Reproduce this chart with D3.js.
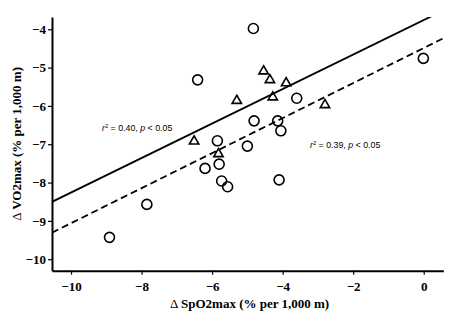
<!DOCTYPE html>
<html>
<head>
<meta charset="utf-8">
<script src="https://cdn.jsdelivr.net/npm/d3@7"></script>
<style>
  html, body { margin: 0; padding: 0; background: #fff; }
  svg { display: block; }
</style>
</head>
<body>
<svg id="chart" width="474" height="322"></svg>
<script>
// ---- data ----
const circleX = [-4.83, -6.41, -3.60, -4.81, -4.14, -4.05, -5.85, -5.00, -5.80, -6.20, -5.73, -5.56, -4.10, -7.85, -8.91, -0.01];
const circleY = [-3.98, -5.32, -5.80, -6.39, -6.39, -6.65, -6.91, -7.05, -7.52, -7.63, -7.96, -8.11, -7.93, -8.57, -9.43, -4.76];
const triX = [-4.54, -4.36, -3.90, -5.30, -4.28, -2.80, -6.51, -5.82];
const triY = [-5.08, -5.31, -5.39, -5.85, -5.76, -5.96, -6.91, -7.24];
// regression lines: [slope, intercept]
const lineSolid = [0.450, -3.76];
const lineDashed = [0.457, -4.49];
const xTicks = [-10, -8, -6, -4, -2, 0];
const yTicks = [-10, -9, -8, -7, -6, -5, -4];
const xDomain = [-10.54, 0.556];
const yDomain = [-10.30, -3.68];
const xTitle = "SpO2max (% per 1,000 m)";
const yTitle = "VO2max (% per 1,000 m)";

// ---- layout ----
const svg = d3.select("#chart");
const L = 52, R = 443.3, T = 17, B = 270.7;
const x = d3.scaleLinear().domain(xDomain).range([L, R]);
const y = d3.scaleLinear().domain(yDomain).range([B, T]);

svg.append("defs").append("clipPath").attr("id", "clip")
  .append("rect").attr("x", L).attr("y", T).attr("width", R - L).attr("height", B - T);

// axes
const xAxis = d3.axisBottom(x).tickValues(xTicks).tickSize(4).tickSizeOuter(0).tickFormat(d3.format("d"));
const yAxis = d3.axisLeft(y).tickValues(yTicks).tickSize(4).tickSizeOuter(0).tickFormat(d3.format("d"));

const gx = svg.append("g").attr("transform", `translate(0,${B})`).call(xAxis);
const gy = svg.append("g").attr("transform", `translate(${L},0)`).call(yAxis);
[gx, gy].forEach(g => {
  g.select(".domain").attr("stroke", "#000").attr("stroke-width", 2);
  g.selectAll(".tick line").attr("stroke", "#000").attr("stroke-width", 1.2);
  g.selectAll(".tick text")
    .attr("fill", "#000")
    .style("font-family", "'Liberation Serif', 'Times New Roman', serif")
    .style("font-weight", "bold")
    .style("font-size", "13px");
});
gx.selectAll(".tick text").attr("dy", "1.05em");
gy.selectAll(".tick text").attr("x", -6);

// regression lines
const plot = svg.append("g").attr("clip-path", "url(#clip)");
function drawLine(coef, dash) {
  plot.append("line")
    .attr("x1", x(xDomain[0])).attr("y1", y(coef[0] * xDomain[0] + coef[1]))
    .attr("x2", x(xDomain[1])).attr("y2", y(coef[0] * xDomain[1] + coef[1]))
    .attr("stroke", "#000").attr("stroke-width", 1.8)
    .attr("stroke-dasharray", dash || null);
}
drawLine(lineSolid);
drawLine(lineDashed, "7,4");

// points
const circles = circleX.map((v, i) => [v, circleY[i]]);
const tris = triX.map((v, i) => [v, triY[i]]);
svg.append("g").selectAll("circle").data(circles).join("circle")
  .attr("cx", d => x(d[0])).attr("cy", d => y(d[1])).attr("r", 5)
  .attr("fill", "none").attr("stroke", "#000").attr("stroke-width", 1.6);
const triSym = d3.symbol().type(d3.symbolTriangle).size(38);
svg.append("g").selectAll("path").data(tris).join("path")
  .attr("d", triSym)
  .attr("transform", d => `translate(${x(d[0])},${y(d[1]) + 0.5})`)
  .attr("fill", "none").attr("stroke", "#000").attr("stroke-width", 1.6);

// annotations
function annot(px, py, r2) {
  const t = svg.append("text").attr("x", px).attr("y", py)
    .style("font-family", "'Liberation Sans', Arial, sans-serif")
    .style("font-size", "8.8px").attr("fill", "#000");
  t.append("tspan").style("font-style", "italic").text("r");
  t.append("tspan").attr("dy", -3.5).style("font-size", "5.8px").text("2");
  t.append("tspan").attr("dy", 3.5).text(` = ${r2}, `);
  t.append("tspan").style("font-style", "italic").text("p");
  t.append("tspan").text(" < 0.05");
}
annot(102, 131, "0.40");
annot(310, 148, "0.39");

// axis titles
const titleFont = "'Liberation Serif', 'Times New Roman', serif";
const xt = svg.append("text").attr("x", (L + R) / 2 + 2).attr("y", 308)
  .attr("text-anchor", "middle").style("font-family", titleFont)
  .style("font-size", "13px").attr("fill", "#000");
xt.append("tspan").style("font-weight", "normal").text("\u0394 ");
xt.append("tspan").style("font-weight", "bold").text(xTitle);

const yt = svg.append("text").attr("transform", `translate(21,${(T + B) / 2}) rotate(-90)`)
  .attr("text-anchor", "middle").style("font-family", titleFont)
  .style("font-size", "13px").attr("fill", "#000");
yt.append("tspan").style("font-weight", "normal").text("\u0394 ");
yt.append("tspan").style("font-weight", "bold").text(yTitle);
</script>
</body>
</html>
